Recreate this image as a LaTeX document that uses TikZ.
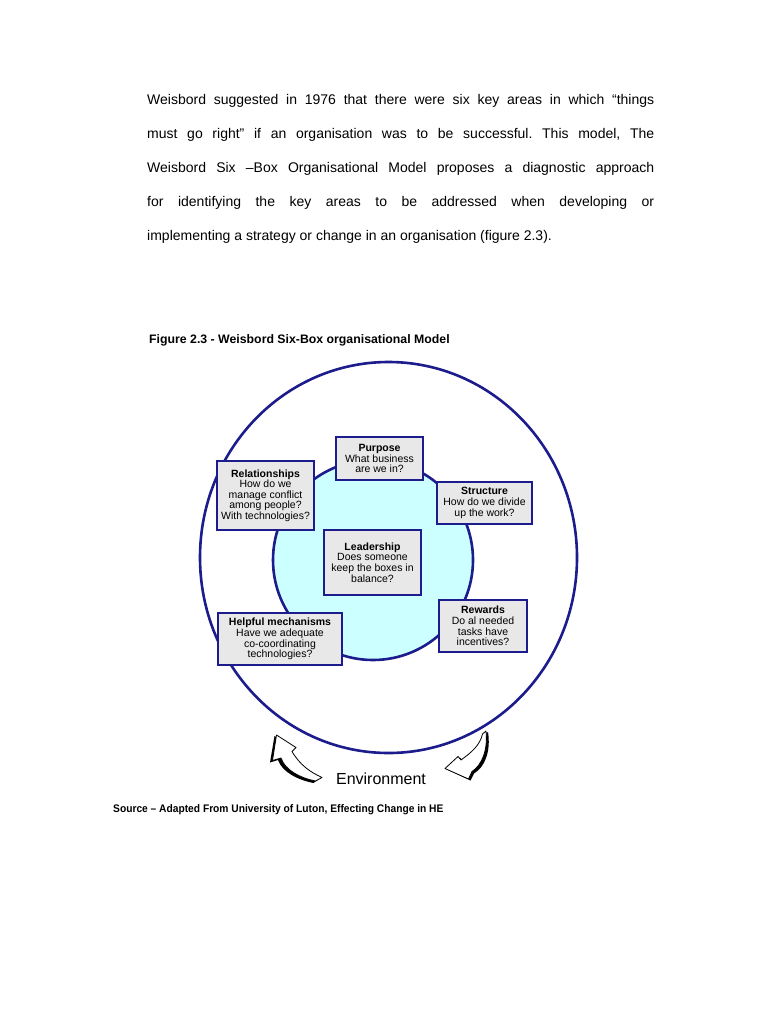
\documentclass[tikz,border=0pt]{standalone}
\usepackage{fontspec}
\setmainfont{Liberation Sans}
\usepackage{graphicx}
\usetikzlibrary{shapes.geometric, positioning}
\definecolor{ringblue}{RGB}{28,28,140}
\definecolor{corecyan}{RGB}{204,255,255}
\definecolor{boxgray}{RGB}{232,232,232}
\tikzstyle{sixbox} = [rectangle, draw=ringblue, line width=1.8pt, fill=boxgray, align=center, inner sep=0pt, font=\fontsize{10.5}{10.6}\selectfont]
\tikzstyle{ring} = [draw=ringblue, line width=2.6pt, inner sep=0pt]
\tikzstyle{envarrow} = [draw=black, line width=0.8pt, fill=white, line join=round]
\tikzstyle{shadow} = [fill=black]
\frenchspacing

\begin{document}
\begin{tikzpicture}[x=1pt, y=-1pt]
\useasboundingbox [fill=white] (0,0) rectangle (768,1024);

\node (intro) [anchor=base west, inner sep=0pt, text width=507pt, align=justify, font=\fontsize{14}{34}\selectfont] at (147,105) {Weisbord suggested in 1976 that there were six key areas in which “things\linebreak must go right” if an organisation was to be successful. This model, The\linebreak Weisbord Six –Box Organisational Model proposes a diagnostic approach\linebreak for identifying the key areas to be addressed when developing or\linebreak implementing a strategy or change in an organisation (figure 2.3).};

\node (caption) [anchor=base west, inner sep=0pt, font=\fontsize{12.3}{14}\bfseries] at (149,343.5) {Figure 2.3 - Weisbord Six-Box organisational Model};

\node (outer) [ring, ellipse, minimum width=377pt, minimum height=391pt] at (388.5,557.5) {};
\node (core) [ring, circle, fill=corecyan, minimum size=200pt] at (373,560) {};

\node (purpose) [sixbox, minimum width=87pt, minimum height=43pt] at (379.5,458.5) {\textbf{Purpose}\\What business\\are we in?};
\node (relations) [sixbox, minimum width=97pt, minimum height=69pt] at (265.5,495.5) {\textbf{Relationships}\\How do we\\manage conflict\\among people?\\With technologies?};
\node (structure) [sixbox, minimum width=95pt, minimum height=42pt] at (484.5,503) {\textbf{Structure}\\How do we divide\\up the work?};
\node (leadership) [sixbox, minimum width=97pt, minimum height=65pt] at (372.5,562.5) {\textbf{Leadership}\\Does someone\\keep the boxes in\\balance?};
\node (helpful) [sixbox, minimum width=124pt, minimum height=52pt] at (280,639) {\textbf{Helpful mechanisms}\\Have we adequate\\co-coordinating\\technologies?};
\node (rewards) [sixbox, minimum width=88pt, minimum height=52pt] at (483,626) {\textbf{Rewards}\\Do al needed\\tasks have\\incentives?};

% environment arrows
\fill [shadow] (274.5,736) -- (294,748.5) -- (290,752.5) .. controls (298,766) and (308,773) .. (320,778.5) -- (313.5,783) .. controls (298,780) and (282,772) .. (278,760) -- (270,762.5) -- cycle;
\path [envarrow] (276.5,735) -- (296,747.5) -- (292,751.5) .. controls (300,765) and (310,772) .. (322,777.5) -- (315.5,781) .. controls (300,778) and (285,770) .. (281,758) -- (272.5,760.5) -- cycle;

\fill [shadow] (447,769.5) -- (460,757.5) -- (463,761) .. controls (474,753) and (482,746) .. (484.5,735) -- (488,732) .. controls (491,751) and (485,767) .. (474,773.5) -- (470.5,780.5) -- cycle;
\path [envarrow] (445,768.5) -- (458,756.5) -- (461,760) .. controls (472,752) and (480,745) .. (482.5,734) -- (486,731) .. controls (488,750) and (482,765) .. (472,771.5) -- (468.5,779) -- cycle;

\node (environment) [inner sep=0pt, font=\fontsize{16}{18}\selectfont] at (381,779) {Environment};

\node (source) [anchor=base west, inner sep=0pt] at (113,812) {\scalebox{0.93}[1]{\fontsize{11}{13}\selectfont\bfseries Source – Adapted From University of Luton, Effecting Change in HE}};

\end{tikzpicture}
\end{document}
